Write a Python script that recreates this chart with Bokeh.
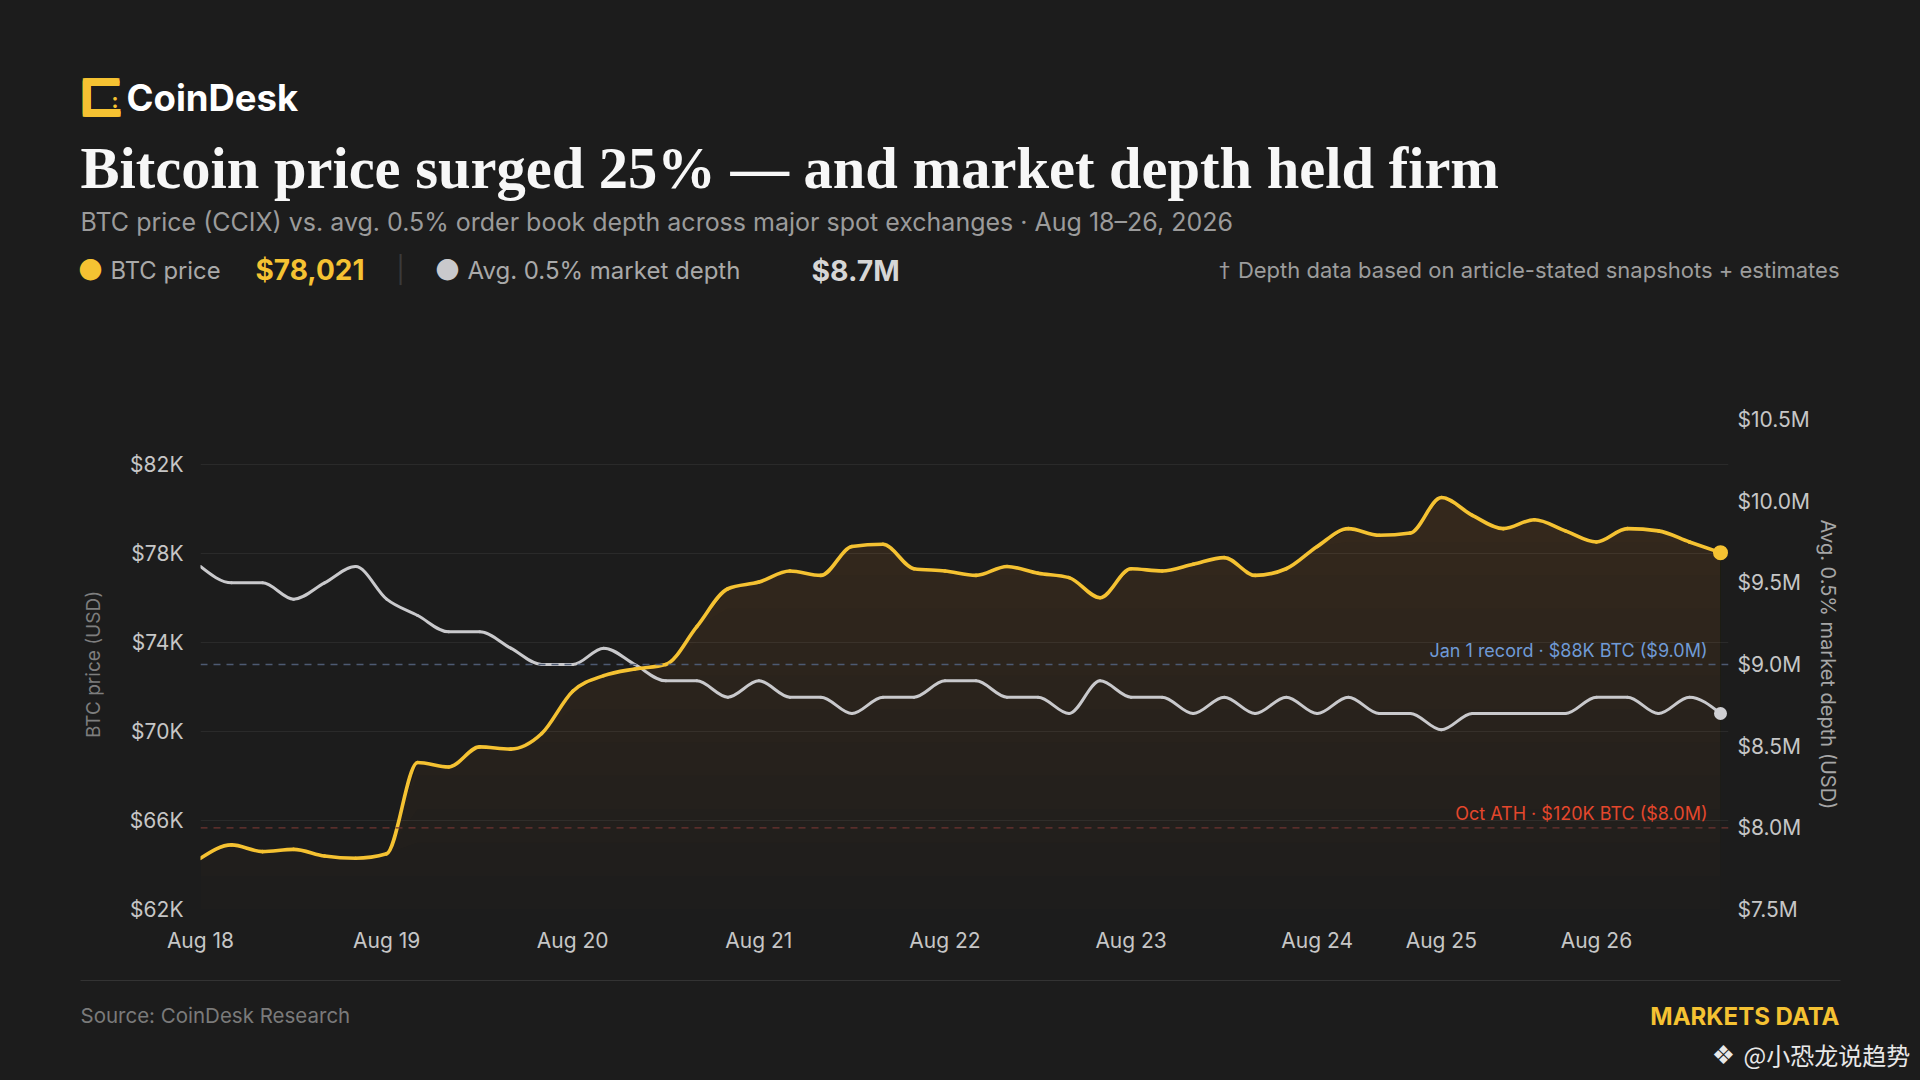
import numpy as np
from bokeh.plotting import figure
from bokeh.layouts import column
from bokeh.models import (Range1d, LinearAxis, FixedTicker, Span, Label,
                          BoxAnnotation, CustomJSTickFormatter)
from bokeh.embed import file_html
from bokeh.resources import INLINE

# ---------------- data ----------------
day_labels = ["Aug 18", "Aug 19", "Aug 20", "Aug 21", "Aug 22",
              "Aug 23", "Aug 24", "Aug 25", "Aug 26"]
day_tick_index = [0, 6, 12, 18, 24, 30, 36, 40, 45]

btc_price_usd = [64300, 64900, 64600, 64700, 64400, 64300, 64500, 68600, 68400, 69300,
                 69200, 69900, 71800, 72500, 72800, 73000, 74700, 76400, 76700, 77200,
                 77000, 78300, 78400, 77300, 77200, 77000, 77400, 77100, 76900, 76000,
                 77300, 77200, 77500, 77800, 77000, 77300, 78300, 79100, 78800, 78900,
                 80500, 79700, 79100, 79500, 79000, 78500, 79100, 79000, 78500, 78021]

depth_musd = [9.6, 9.5, 9.5, 9.4, 9.5, 9.6, 9.4, 9.3, 9.2, 9.2,
              9.1, 9.0, 9.0, 9.1, 9.0, 8.9, 8.9, 8.8, 8.9, 8.8,
              8.8, 8.7, 8.8, 8.8, 8.9, 8.9, 8.8, 8.8, 8.7, 8.9,
              8.8, 8.8, 8.7, 8.8, 8.7, 8.8, 8.7, 8.8, 8.7, 8.7,
              8.6, 8.7, 8.7, 8.7, 8.7, 8.8, 8.8, 8.7, 8.8, 8.7]

price_ticks = [62000, 66000, 70000, 74000, 78000, 82000]
depth_ticks = [7.5, 8.0, 8.5, 9.0, 9.5, 10.0, 10.5]

ref_depth = [9.0, 8.0]
ref_labels = ["Jan 1 record \u00b7 $88K BTC ($9.0M)", "Oct ATH \u00b7 $120K BTC ($8.0M)"]

# ---------------- style ----------------
BG = "#1c1c1c"
GOLD = "#f5c232"
GRAY = "#c9c9cc"
ref_line_colors = ["#4d5a72", "#6e3530"]
ref_text_colors = ["#6f9ad6", "#e4472c"]

W = 1916
H_HEAD, H_CHART, H_FOOT = 300, 660, 116

# chart frame in page pixels
FX0, FX1 = 200, 1728
FY0, FY1 = 419, 909

idx = np.arange(len(btc_price_usd))
price = np.array(btc_price_usd, dtype=float)
depth = np.array(depth_musd, dtype=float)

STEP = 1520.0 / (len(idx) - 1)
XMIN = 0.0
XMAX = (FX1 - FX0) / STEP
YMIN, YMAX = 62000, 84000


def monotone_segments(xs, ys):
    """Bezier control points of a monotone-x cubic through the data points."""
    xs = np.asarray(xs, dtype=float)
    ys = np.asarray(ys, dtype=float)
    n = len(xs)
    h = np.diff(xs)
    s = np.diff(ys) / h
    t = np.zeros(n)
    for i in range(1, n - 1):
        pp = (s[i - 1] * h[i] + s[i] * h[i - 1]) / (h[i - 1] + h[i])
        t[i] = (np.sign(s[i - 1]) + np.sign(s[i])) * min(abs(s[i - 1]), abs(s[i]), 0.5 * abs(pp))
    t[0] = (3 * s[0] - t[1]) / 2
    t[-1] = (3 * s[-1] - t[-2]) / 2
    return dict(x0=xs[:-1], y0=ys[:-1], x1=xs[1:], y1=ys[1:],
                cx0=xs[:-1] + h / 3, cy0=ys[:-1] + h * t[:-1] / 3,
                cx1=xs[1:] - h / 3, cy1=ys[1:] - h * t[1:] / 3)


def blank_fig(height, top):
    f = figure(width=W, height=height, x_range=Range1d(0, W), y_range=Range1d(top + height, top),
               output_backend="svg", toolbar_location=None, x_axis_type=None, y_axis_type=None,
               min_border=0, background_fill_color=None, border_fill_color=None,
               outline_line_color=None, styles={"background-color": BG})
    f.xgrid.visible = False
    f.ygrid.visible = False
    return f


def lab(f, px, py, text, size, color, font="Inter", style="normal", align="left",
        xo=0, yo=0):
    # py is the vertical middle of the text line
    f.add_layout(Label(x=px, y=py, text=text, text_font=font, x_offset=xo, y_offset=yo,
                       text_font_size=f"{size}px", text_color=color,
                       text_font_style=style, text_align=align, text_baseline="middle"))


# ---------------- header ----------------
head = blank_fig(H_HEAD, 0)
for ox in (0, 1.5, 3):
    for oy in (0, 1.5, 3):
        lab(head, 78, 96, "\u531a", 42, GOLD, font="Noto Sans CJK SC", style="bold",
            xo=ox, yo=oy)
lab(head, 111, 100, ":", 21, GOLD, style="bold")
lab(head, 126, 97, "CoinDesk", 36.5, "#ffffff", style="bold")
lab(head, 80, 168, "Bitcoin price surged 25% \u2014 and market depth held firm", 58.5, "#f7f7f7",
    font="Liberation Serif", style="bold")
lab(head, 80, 221.5, "BTC price (CCIX) vs. avg. 0.5% order book depth across major spot "
    "exchanges \u00b7 Aug 18\u201326, 2026", 25, "#9b9b9b")
lab(head, 90, 267, "\u25cf", 28, GOLD, font="DejaVu Sans", align="center")
lab(head, 110, 269.5, "BTC price", 23.8, "#a9a9a9")
lab(head, 255, 269.5, f"${price[-1]:,.0f}", 28, GOLD, style="bold")
lab(head, 400, 269, "|", 26, "#3a3a3a", align="center")
lab(head, 447, 267, "\u25cf", 28, "#c9c9cc", font="DejaVu Sans", align="center")
lab(head, 467, 269.5, "Avg. 0.5% market depth", 24, "#a9a9a9")
lab(head, 811, 269.5, f"${depth[-1]:.1f}M", 28.4, "#d6d6d6", style="bold")
lab(head, 1224, 270, "\u2020", 21, "#9d9d9d", font="DejaVu Sans", align="center")
lab(head, 1839, 269, "Depth data based on article-stated snapshots + estimates", 22,
    "#9d9d9d", align="right")

# ---------------- chart ----------------
p = figure(width=W, height=H_CHART, x_range=Range1d(XMIN, XMAX), y_range=Range1d(YMIN, YMAX),
           output_backend="svg", toolbar_location=None,
           min_border_left=FX0, min_border_right=W - FX1,
           min_border_top=FY0 - H_HEAD, min_border_bottom=H_HEAD + H_CHART - FY1,
           background_fill_color=None, border_fill_color=None, outline_line_color=None,
           styles={"background-color": BG})
p.extra_y_ranges = {"depth": Range1d(depth_ticks[0], depth_ticks[-1])}


def style_axis(ax):
    ax.axis_line_color = None
    ax.major_tick_line_color = None
    ax.minor_tick_line_color = None
    ax.major_tick_in = 0
    ax.major_tick_out = 0
    ax.minor_tick_in = 0
    ax.minor_tick_out = 0
    ax.major_label_text_font = "Inter"
    ax.major_label_text_font_size = "21px"
    ax.major_label_text_color = "#c6c6c6"
    ax.axis_label_text_font = "Inter"
    ax.axis_label_text_font_style = "normal"


ly = p.yaxis[0]
style_axis(ly)
ly.ticker = FixedTicker(ticks=price_ticks)
ly.formatter = CustomJSTickFormatter(code="return '$' + (tick/1000).toFixed(0) + 'K';")
ly.major_label_standoff = 17
ly.axis_label = "BTC price (USD)"
ly.axis_label_text_color = "#7e7e7e"
ly.axis_label_text_font_size = "19px"
ly.axis_label_standoff = 22

ry = LinearAxis(y_range_name="depth", ticker=FixedTicker(ticks=depth_ticks),
                formatter=CustomJSTickFormatter(code="return '$' + tick.toFixed(1) + 'M';"))
style_axis(ry)
ry.major_label_standoff = 9
ry.axis_label = "Avg. 0.5% market depth (USD)"
ry.axis_label_text_color = "#a6a6a6"
ry.axis_label_text_font_size = "20px"
ry.axis_label_standoff = 3
p.add_layout(ry, "right")

bx = p.xaxis[0]
style_axis(bx)
bx.ticker = FixedTicker(ticks=day_tick_index)
bx.major_label_overrides = dict(zip(day_tick_index, day_labels))
bx.major_label_standoff = 18

p.ygrid[0].ticker = FixedTicker(ticks=price_ticks)
p.ygrid.grid_line_color = "#2a2a2a"
p.ygrid.grid_line_width = 1
p.xgrid.grid_line_color = None

# gradient-like area under the price line
for lvl in np.arange(YMIN, 79000, 1500):
    p.varea(x=idx, y1=np.minimum(lvl, price), y2=price, fill_color=GOLD, fill_alpha=0.011)

for val, txt, lc, tc in zip(ref_depth, ref_labels, ref_line_colors, ref_text_colors):
    p.add_layout(Span(location=val, dimension="width", y_range_name="depth",
                      line_color=lc, line_width=1.4, line_dash="7 6"))
    p.add_layout(Label(x=len(idx) - 1, y=val, y_range_name="depth", x_offset=-13, y_offset=14.5,
                       text=txt, text_align="right", text_baseline="middle",
                       text_font="Inter", text_font_size="18px", text_color=tc))

seg_d = monotone_segments(idx, depth)
p.bezier(y_range_name="depth", line_color=GRAY, line_width=3, line_cap="round", **seg_d)
seg_p = monotone_segments(idx, price)
p.bezier(line_color=GOLD, line_width=3.6, line_cap="round", **seg_p)

p.scatter([idx[-1]], [depth[-1]], y_range_name="depth", size=13,
          fill_color="#cfcfd3", line_color=None)
p.scatter([idx[-1]], [price[-1]], size=15, fill_color=GOLD, line_color=None)

# ---------------- footer ----------------
TOPF = H_HEAD + H_CHART
foot = blank_fig(H_FOOT, TOPF)
foot.add_layout(BoxAnnotation(left=80, right=1840, top=979.4, bottom=980.6,
                              fill_color="#333333", fill_alpha=1.0, line_color=None))
lab(foot, 80, 1015, "Source: CoinDesk Research", 20.5, "#7a7a7a")
lab(foot, 1839, 1015.5, "MARKETS DATA", 24, GOLD, style="bold", align="right")
lab(foot, 1723, 1054, "\u2756", 26, "#e8e8e8", font="DejaVu Sans", align="center")
lab(foot, 1743, 1054, "@\u5c0f\u6050\u9f99\u8bf4\u8d8b\u52bf", 24, "#e8e8e8",
    font="Noto Sans CJK SC")

page = column(column(head), p, column(foot), spacing=0, styles={"background-color": BG})
html = file_html(page, INLINE)
html = html.replace("</head>", "<style>html, body { background: %s !important; }</style>\n</head>"
                    % BG, 1)
open("out.html", "w").write(html)
